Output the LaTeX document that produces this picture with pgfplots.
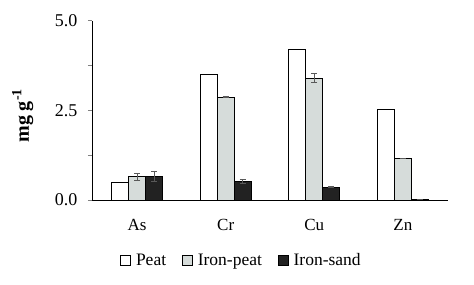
\documentclass[border=0pt]{standalone}
\usepackage{fontspec}
\setmainfont{Liberation Serif}
\usepackage{pgfplots}
\pgfplotsset{compat=1.18}
\definecolor{ironpeat}{HTML}{D6DCDA}
\definecolor{ironsand}{HTML}{222222}
\begin{document}
\begin{tikzpicture}
\begin{axis}[
  name=ax,
  scale only axis,
  width=356pt, height=179.3pt,
  xmin=-0.51, xmax=3.51,
  ymin=0, ymax=5,
  axis x line*=bottom, axis y line*=left,
  axis line style={line width=0.9pt},
  ybar=0pt, bar width=17pt,
  xtick={0,1,2,3}, xticklabels={As,Cr,Cu,Zn},
  xtick style={draw=none},
  x tick label style={yshift=-12pt, font=\fontsize{17}{20}\selectfont},
  ytick={0,1.25,2.5,3.75,5}, yticklabels={0.0,,2.5,,5.0},
  ytick style={line width=0.8pt},
  tick align=outside, major tick length=4pt,
  y tick label style={xshift=-7pt, font=\fontsize{18}{20}\selectfont},
  /pgf/number format/assume math mode=true,
  ylabel={\textbf{mg g\textsuperscript{-1}}},
  ylabel style={font=\fontsize{20}{22}\selectfont, at={(-0.155,0.47)}},
  legend style={draw=none, at={(0.42,-0.335)}, anchor=center, legend columns=3,
    font=\fontsize{17.5}{20}\selectfont,
    /tikz/every odd column/.append style={column sep=3pt},
    /tikz/every even column/.append style={column sep=14pt}},
  legend image code/.code={\draw[#1, line width=0.7pt] (0pt,-5pt) rectangle (10pt,5pt);},
  error bars/y dir=both, error bars/y explicit,
  error bars/error bar style={gray!70!black, line width=0.7pt},
  error bars/error mark options={rotate=90, mark size=3pt, gray!70!black, line width=0.7pt},
]
\addplot[draw=black, fill=white, line width=0.8pt] coordinates {(0,0.48) (1,3.49) (2,4.21) (3,2.52)};
\addplot[draw=black, fill=ironpeat, line width=0.8pt] coordinates {(0,0.65) +- (0,0.1) (1,2.87) +- (0,0.02) (2,3.40) +- (0,0.13) (3,1.16) +- (0,0)};
\addplot[draw=black, fill=ironsand, line width=0.8pt] coordinates {(0,0.66) +- (0,0.15) (1,0.52) +- (0,0.05) (2,0.36) +- (0,0.01) (3,0.02) +- (0,0)};
\legend{Peat,Iron-peat,Iron-sand}
\end{axis}
\path[use as bounding box] ([xshift=-92pt,yshift=-84pt]ax.south west) rectangle ([xshift=26pt,yshift=20.7pt]ax.north east);
\end{tikzpicture}
\end{document}
